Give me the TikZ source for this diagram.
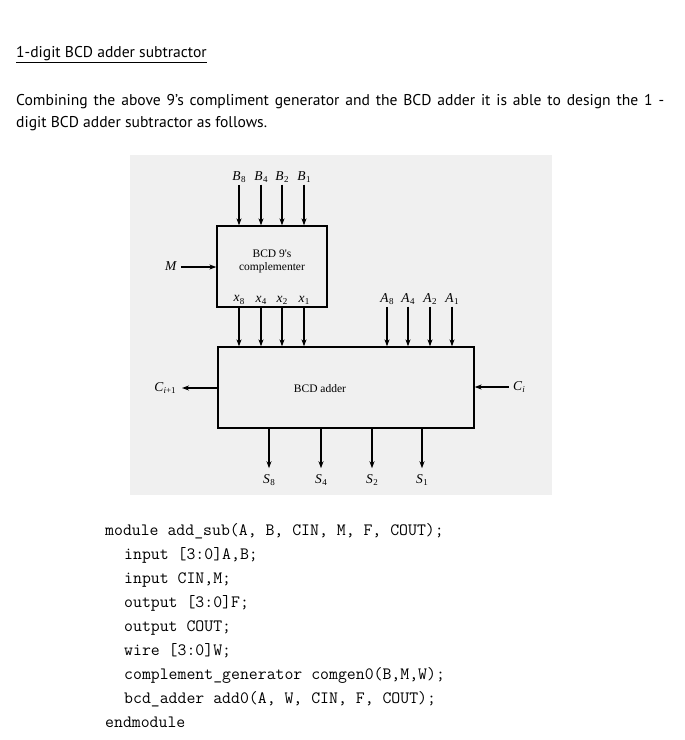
\documentclass[tikz,border=0pt]{standalone}
\usepackage{fontspec}
\setmainfont{PT Sans}
\newfontfamily\diagfont{Liberation Serif}
\usetikzlibrary{arrows.meta}
\definecolor{panel}{HTML}{F0F0F0}
\newcommand\dlab[2]{{\diagfont\itshape #1\kern0.3pt\raisebox{-0.35ex}{\fontsize{9}{10}\selectfont\upshape #2}}}
\tikzset{
  body/.style={anchor=base west, inner sep=0pt, font=\fontsize{15.6}{18}\selectfont},
  code/.style={anchor=base west, inner sep=0pt, font=\ttfamily\fontsize{17.3}{19}\selectfont},
  blockbox/.style={draw, line width=1.3pt, inner sep=0pt},
  lbl/.style={inner sep=0pt, font=\fontsize{13.5}{15}\selectfont},
  wire/.style={line width=1.2pt, -{Stealth[length=7pt,width=5pt]}}
}
\begin{document}
\begin{tikzpicture}[x=1pt,y=-1pt]
\useasboundingbox (0,0) rectangle (685,740);
% text
\node[body] (title) at (16,57) {\underline{1-digit BCD adder subtractor}};
\node[body] (p1) at (16,105) {\makebox[648pt][s]{Combining the above 9’s compliment generator and the BCD adder it is able to design the 1 -}};
\node[body] (p2) at (16,127) {digit BCD adder subtractor as follows.};
% panel
\fill[panel] (130,155) rectangle (552,495);
% boxes
\node[blockbox, minimum width=110pt, minimum height=81pt] (comp) at (272,266.5) {};
\node[font=\diagfont\fontsize{11.5}{13}\selectfont, align=center, inner sep=0pt] (comptxt) at (272,261) {BCD 9's\\complementer};
\node[blockbox, minimum width=256pt, minimum height=81pt] (adder) at (346,387.5) {};
\node[font=\diagfont\fontsize{11.5}{13}\selectfont, inner sep=0pt] (addtxt) at (320,389) {BCD adder};
% B inputs
\foreach \n/\x/\s in {b8/239/8,b4/261/4,b2/282/2,b1/304/1}{
  \node[lbl] (\n) at (\x,177) {\dlab{B}{\s}};
  \draw[wire] (\n.south) ++(0,2) -- (\n.south |- comp.north);
  \node[lbl] (x\n) at (\x,300) {\dlab{x}{\s}};
  \draw[wire] (\n.south |- comp.south) -- (\n.south |- adder.north);
}
% M
\node[lbl] (m) at (171,267) {\dlab{M}{}};
\draw[wire] (m.east) ++(4,0) -- (m.east -| comp.west);
% A inputs
\foreach \n/\x/\s in {a8/387/8,a4/408/4,a2/430/2,a1/452/1}{
  \node[lbl] (\n) at (\x,299) {\dlab{A}{\s}};
  \draw[wire] (\n.south) ++(0,2) -- (\n.south |- adder.north);
}
% carries
\node[lbl] (ci) at (519,387) {\dlab{C}{\itshape i}};
\draw[wire] (ci.west) ++(-4,0) -- (ci.west -| adder.east);
\node[lbl] (co) at (165,388) {\dlab{C}{\itshape i\upshape +1}};
\coordinate (coend) at (182,388);
\draw[wire] (coend -| adder.west) -- (coend);
% outputs
\foreach \n/\x/\s in {s8/269/8,s4/321/4,s2/372/2,s1/422/1}{
  \node[lbl] (\n) at (\x,480) {\dlab{S}{\s}};
  \draw[wire] (\n.north |- adder.south) -- ([yshift=6pt]\n.north);
}
% code
\node[code] (c1) at (105,535) {module add\_sub(A, B, CIN, M, F, COUT);};
\node[code] (c2) at (124,559) {input [3:0]A,B;};
\node[code] (c3) at (124,583) {input CIN,M;};
\node[code] (c4) at (124,607) {output [3:0]F;};
\node[code] (c5) at (124,631) {output COUT;};
\node[code] (c6) at (124,655) {wire [3:0]W;};
\node[code] (c7) at (124,679) {complement\_generator comgen0(B,M,W);};
\node[code] (c8) at (124,703) {bcd\_adder add0(A, W, CIN, F, COUT);};
\node[code] (c9) at (105,727) {endmodule};
\end{tikzpicture}
\end{document}
